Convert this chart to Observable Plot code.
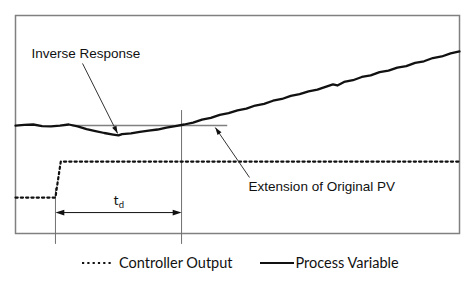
<!DOCTYPE html>
<html><head><meta charset="utf-8">
<script src="https://cdn.jsdelivr.net/npm/d3@7"></script>
<script src="https://cdn.jsdelivr.net/npm/@observablehq/plot@0.6"></script>
<style>
body{margin:0;background:#fff;}
#legend{position:relative;height:34px;font-family:Lato,"Open Sans",sans-serif;font-size:14.5px;color:#111;}
#legend .row{position:absolute;left:82px;top:4px;display:flex;align-items:center;white-space:nowrap;}
</style></head>
<body>
<div id="chart"></div>
<div id="legend"><div class="row"></div></div>
<script>
// time (0-100) and value (0-100)
const pvTime = [0,2,4,6,8,10,12,14,16,18,20,22,23.2,24,26,28,30,32,34,36,38,40,42,44,46,48,50,52,54,56,58,60,62,64,66,68,70,71.5,72.5,74,76,78,80,82,84,86,88,90,92,94,96,98,100];
const pvValue = [49.5,49.8,50.0,49.3,49.1,49.5,50.0,49.1,47.9,47.0,46.1,45.4,45.0,45.6,45.9,46.6,47.2,47.7,48.6,49.3,50.0,50.9,52.2,53.0,54.4,55.2,56.5,57.3,58.7,59.5,60.9,61.7,63.1,63.9,65.2,66.0,67.4,68.4,67.9,69.5,70.3,71.8,72.5,74.0,74.7,76.1,76.8,78.3,79.0,80.5,81.2,82.6,83.5];
const coTime = [0,9,9.2,10.2,100];
const coValue = [16.5,16.5,19.5,33,33];
const pvBaseline = 49.5;
const extensionSpan = [12.8,47.8];
const stepTime = 9;
const deadTimeEnd = 37.4;
const markerLines = [{t:stepTime, y1:-5, y2:20.6},{t:deadTimeEnd, y1:-5, y2:56.4}];
const tdLevel = 9.6;
const tdLabelLevel = 15.0;
const annotations = [
  {label:"Inverse Response", t:3.6, v:82.6, t1:15.1, v1:78, t2:23.0, v2:45.9},
  {label:"Extension of Original PV", t:52.5, v:21.5, t1:52.7, v1:25.7, t2:45.0, v2:48.6}
];
const seriesNames = ["Controller Output","Process Variable"];

const pv = pvTime.map((t,i)=>({t, v:pvValue[i]}));
const co = coTime.map((t,i)=>({t, v:coValue[i]}));
const tdMid = (stepTime+deadTimeEnd)/2;

// arrowhead symbol: tip at origin, pointing up
const head = {draw(ctx, size){ const L = Math.sqrt(size); ctx.moveTo(0,0); ctx.lineTo(-L*0.32, L); ctx.lineTo(L*0.32, L); ctx.closePath(); }};

const opts = {
  width:474, height:250,
  marginLeft:15, marginRight:15, marginTop:15, marginBottom:17,
  x:{domain:[0,100], axis:null},
  y:{domain:[0,100], axis:null}
};
// first pass to obtain scales
const probe = Plot.plot({...opts, marks:[Plot.frame()]});
const sx = probe.scale("x").apply, sy = probe.scale("y").apply;
annotations.forEach(a=>{
  const dx = sx(a.t2)-sx(a.t1), dy = sy(a.v2)-sy(a.v1);
  a.rot = Math.atan2(dx, -dy)*180/Math.PI;
});
const tdHeads = [{t:stepTime, r:-90},{t:deadTimeEnd, r:90}];

const plot = Plot.plot({...opts,
  marks:[
    Plot.frame({stroke:"#808080", strokeWidth:1.5}),
    Plot.ruleY([pvBaseline], {x1:extensionSpan[0], x2:extensionSpan[1], stroke:"#808080", strokeWidth:1.5}),
    Plot.ruleX(markerLines, {x:"t", y1:"y1", y2:"y2", stroke:"#707070", strokeWidth:1}),
    Plot.line(co, {x:"t", y:"v", stroke:"#111", strokeWidth:2.2, strokeDasharray:"2.2,3.1"}),
    Plot.line(pv, {x:"t", y:"v", stroke:"#111", strokeWidth:2.3}),
    Plot.ruleY([tdLevel], {x1:stepTime+1, x2:deadTimeEnd-1, stroke:"#111", strokeWidth:1}),
    Plot.dot(tdHeads, {x:"t", y:()=>tdLevel, rotate:"r", symbol:head, r:5, fill:"#111", stroke:"none"}),
    Plot.text(["t"], {x:tdMid, y:tdLabelLevel, text:d=>d, fontFamily:"Lato, sans-serif", fontSize:14, dx:-2.5, fill:"#111"}),
    Plot.text(["d"], {x:tdMid, y:tdLabelLevel, text:d=>d, fontFamily:"Lato, sans-serif", fontSize:9.5, dx:3, dy:4, fill:"#111"}),
    Plot.link(annotations, {x1:"t1", y1:"v1", x2:"t2", y2:"v2", stroke:"#333", strokeWidth:1}),
    Plot.dot(annotations, {x:"t2", y:"v2", rotate:"rot", symbol:head, r:4.2, fill:"#111", stroke:"none"}),
    Plot.text(annotations, {x:"t", y:"v", text:"label", textAnchor:"start", fontFamily:"Liberation Sans, Arial, sans-serif", fontSize:13.5, fill:"#111"})
  ]
});
document.getElementById("chart").append(plot);

const row = document.querySelector("#legend .row");
const styles = [{dash:"2.2,3.1", w:2.2, len:31, gap:6},{dash:null, w:2, len:34, gap:2}];
seriesNames.forEach((n,i)=>{
  const st = styles[i];
  const s = document.createElement("span");
  s.style.display = "inline-flex"; s.style.alignItems = "center";
  if (i>0) s.style.marginLeft = "27px";
  s.innerHTML = `<svg width="${st.len}" height="6" style="margin-right:${st.gap}px"><line x1="0" x2="${st.len}" y1="3" y2="3" stroke="#111" stroke-width="${st.w}" ${st.dash?`stroke-dasharray="${st.dash}"`:""}/></svg><span>${n}</span>`;
  row.append(s);
});
</script>
</body></html>
